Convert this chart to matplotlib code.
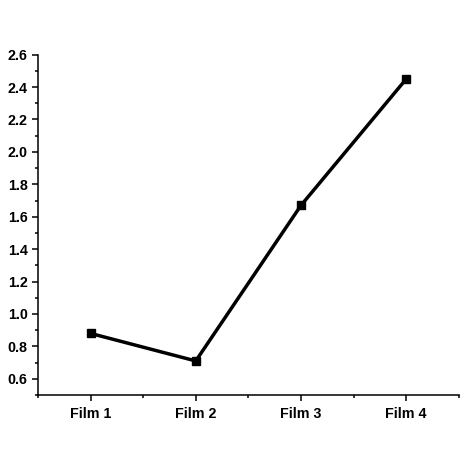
import matplotlib
matplotlib.use("Agg")
import matplotlib.pyplot as plt
from matplotlib.ticker import MultipleLocator

films = ["Film 1", "Film 2", "Film 3", "Film 4"]
values = [0.88, 0.71, 1.67, 2.45]
yticks = [0.6, 0.8, 1.0, 1.2, 1.4, 1.6, 1.8, 2.0, 2.2, 2.4, 2.6]

plt.rcParams["font.family"] = ["Liberation Sans", "DejaVu Sans"]
plt.rcParams["font.weight"] = "bold"

fig = plt.figure(figsize=(4.74, 4.74), dpi=100)
ax = fig.add_axes([0.080, 0.1667, 0.888, 0.718])

x = list(range(1, len(films) + 1))
ax.plot(x, values, color="black", lw=2.5, marker="s", ms=5.5)

# Axes limits and ticks
ax.set_xlim(0.5, 4.5)
ax.set_ylim(0.5, 2.6)
ax.set_xticks(x)
ax.set_xticklabels(films)
ax.xaxis.set_minor_locator(MultipleLocator(0.5))
ax.set_yticks(yticks)
ax.set_yticklabels(["%.1f" % v for v in yticks])
ax.yaxis.set_minor_locator(MultipleLocator(0.1))

for side in ["top", "right"]:
    ax.spines[side].set_visible(False)
for side in ["left", "bottom"]:
    ax.spines[side].set_linewidth(1.1)

ax.tick_params(axis="both", which="major", direction="out", length=4, width=1.1, labelsize=10.3)
ax.tick_params(axis="both", which="minor", direction="out", length=2.5, width=1.1)
ax.tick_params(axis="x", pad=5)

plt.savefig("out.png", dpi=100)
